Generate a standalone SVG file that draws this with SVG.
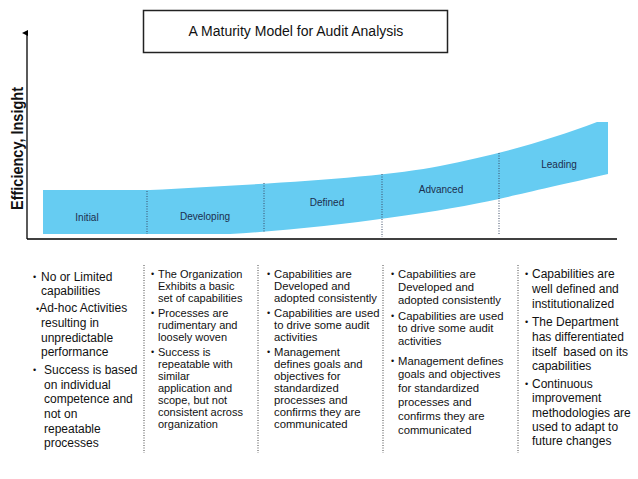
<svg xmlns="http://www.w3.org/2000/svg" width="638" height="479" viewBox="0 0 638 479">
<style>
text{font-family:"Liberation Sans",Arial,sans-serif;fill:#111}
.title{font-size:14px}
.stage{font-size:10px;fill:#1c2e4e;text-anchor:middle}
.c1{font-size:12px}
.c2{font-size:11px}
.c3{font-size:11.3px}
.c4{font-size:11.3px}
.c5{font-size:12px}
.b{font-size:9px}
.sep{stroke:#444;stroke-width:1;stroke-dasharray:1 1.5;fill:none}
.bsep{stroke:#3a4a66;stroke-width:1;stroke-dasharray:1 1.5;fill:none}
</style>
<defs>
<marker id="arr" markerWidth="6" markerHeight="6" refX="3" refY="5" orient="auto-start-reverse" markerUnits="userSpaceOnUse">
<path d="M0,6 L3,0 L6,6 Z" fill="#000"/>
</marker>
</defs>
<rect width="638" height="479" fill="#fff"/>
<g id="title">
<rect x="143.5" y="10.5" width="304" height="42" fill="#fff" stroke="#222" stroke-width="1.5"/>
<text class="title" x="296" y="36" text-anchor="middle">A Maturity Model for Audit Analysis</text>
</g>
<g id="axes">
<line x1="27" y1="239" x2="27" y2="33" stroke="#000" stroke-width="1.3" marker-end="url(#arr)"/>
<line x1="27" y1="239" x2="617" y2="239" stroke="#000" stroke-width="1.5"/>
<text x="0" y="0" transform="translate(23,148.5) rotate(-90)" text-anchor="middle" font-size="16" font-weight="bold" textLength="123" lengthAdjust="spacingAndGlyphs">Efficiency, Insight</text>
</g>
<g id="band">
<path d="M43,190 L150,190 C250,185 380,178 440,166 C500,154 550,140 597,122 L608,122 L608,174 C560,185 520,194 499,199 C440,212 330,228 230,234 L43,234 Z" fill="#66ccf2"/>
</g>
<g id="connectors">
<line class="bsep" x1="147" y1="191" x2="147" y2="234"/>
<line class="bsep" x1="264" y1="183" x2="264" y2="232"/>
<line class="bsep" x1="382" y1="174" x2="382" y2="237"/>
<line class="bsep" x1="499" y1="153" x2="499" y2="234"/>
<line class="sep" x1="144" y1="265" x2="144" y2="453"/>
<line class="sep" x1="258" y1="265" x2="258" y2="453"/>
<line class="sep" x1="383" y1="265" x2="383" y2="453"/>
<line class="sep" x1="518" y1="265" x2="518" y2="453"/>
</g>
<g id="stage-initial"><text class="stage" x="87" y="221">Initial</text></g>
<g id="stage-developing"><text class="stage" x="205" y="220">Developing</text></g>
<g id="stage-defined"><text class="stage" x="327" y="206">Defined</text></g>
<g id="stage-advanced"><text class="stage" x="441" y="193">Advanced</text></g>
<g id="stage-leading"><text class="stage" x="559" y="168">Leading</text></g>
<g id="col-initial">
<text class="b"><tspan x="33" y="280">•</tspan><tspan x="33" y="373">•</tspan></text>
<text class="c1"><tspan x="41" y="281">No or Limited</tspan><tspan x="41" y="295">capabilities</tspan></text>
<text class="c1"><tspan x="36" y="312"><tspan class="b">•</tspan>Ad-hoc Activities</tspan><tspan x="41" y="327">resulting in</tspan><tspan x="41" y="342">unpredictable</tspan><tspan x="41" y="356">performance</tspan></text>
<text class="c1"><tspan x="44" y="374">Success is based</tspan><tspan x="44" y="389">on individual</tspan><tspan x="44" y="403">competence and</tspan><tspan x="44" y="418">not on</tspan><tspan x="44" y="433">repeatable</tspan><tspan x="44" y="447">processes</tspan></text>
</g>
<g id="col-developing">
<text class="b"><tspan x="151" y="277">•</tspan><tspan x="151" y="316">•</tspan><tspan x="151" y="355">•</tspan></text>
<text class="c2"><tspan x="158" y="278">The Organization</tspan><tspan x="158" y="290">Exhibits a basic</tspan><tspan x="158" y="302">set of capabilities</tspan><tspan x="158" y="317">Processes are</tspan><tspan x="158" y="329">rudimentary and</tspan><tspan x="158" y="341">loosely woven</tspan><tspan x="158" y="356">Success is</tspan><tspan x="158" y="368">repeatable with</tspan><tspan x="158" y="380">similar</tspan><tspan x="158" y="392">application and</tspan><tspan x="158" y="404">scope, but not</tspan><tspan x="158" y="416">consistent across</tspan><tspan x="158" y="428">organization</tspan></text>
</g>
<g id="col-defined">
<text class="b"><tspan x="267" y="277">•</tspan><tspan x="267" y="316">•</tspan><tspan x="267" y="355">•</tspan></text>
<text class="c3"><tspan x="274" y="278">Capabilities are</tspan><tspan x="274" y="290">Developed and</tspan><tspan x="274" y="302">adopted consistently</tspan><tspan x="274" y="317">Capabilities are used</tspan><tspan x="274" y="329">to drive some audit</tspan><tspan x="274" y="341">activities</tspan><tspan x="274" y="356">Management</tspan><tspan x="274" y="368">defines goals and</tspan><tspan x="274" y="380">objectives for</tspan><tspan x="274" y="392">standardized</tspan><tspan x="274" y="404">processes and</tspan><tspan x="274" y="416">confirms they are</tspan><tspan x="274" y="428">communicated</tspan></text>
</g>
<g id="col-advanced">
<text class="b"><tspan x="391" y="277">•</tspan><tspan x="391" y="319">•</tspan><tspan x="391" y="364">•</tspan></text>
<text class="c4"><tspan x="398" y="278">Capabilities are</tspan><tspan x="398" y="291">Developed and</tspan><tspan x="398" y="304">adopted consistently</tspan><tspan x="398" y="320">Capabilities are used</tspan><tspan x="398" y="332">to drive some audit</tspan><tspan x="398" y="345">activities</tspan><tspan x="398" y="365">Management defines</tspan><tspan x="398" y="378">goals and objectives</tspan><tspan x="398" y="392">for standardized</tspan><tspan x="398" y="406">processes and</tspan><tspan x="398" y="420">confirms they are</tspan><tspan x="398" y="434">communicated</tspan></text>
</g>
<g id="col-leading">
<text class="b"><tspan x="525" y="277">•</tspan><tspan x="525" y="325">•</tspan><tspan x="525" y="387">•</tspan></text>
<text class="c5"><tspan x="532" y="278">Capabilities are</tspan><tspan x="532" y="293">well defined and</tspan><tspan x="532" y="308">institutionalized</tspan><tspan x="532" y="326">The Department</tspan><tspan x="532" y="341">has differentiated</tspan><tspan x="532" y="356">itself&#160; based on its</tspan><tspan x="532" y="370">capabilities</tspan><tspan x="532" y="388">Continuous</tspan><tspan x="532" y="402">improvement</tspan><tspan x="532" y="417">methodologies are</tspan><tspan x="532" y="431">used to adapt to</tspan><tspan x="532" y="445">future changes</tspan></text>
</g>
</svg>
